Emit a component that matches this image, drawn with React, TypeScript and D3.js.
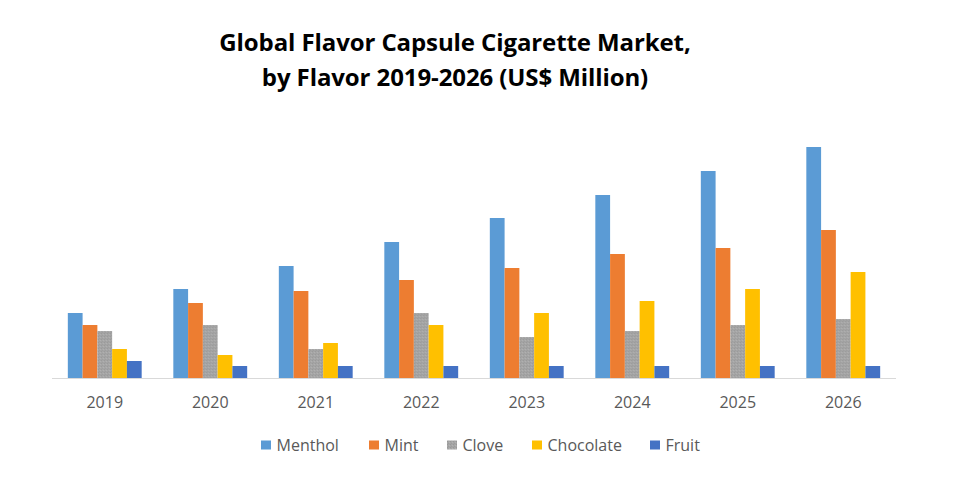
import React from "react";
import * as d3 from "d3";

const years = ["2019", "2020", "2021", "2022", "2023", "2024", "2025", "2026"];
const seriesNames = ["Menthol", "Mint", "Clove", "Chocolate", "Fruit"];
const menthol = [65, 89, 112, 136, 160, 183, 207, 231];
const mint = [53, 75, 87, 98, 110, 124, 130, 148];
const clove = [47, 53, 29, 65, 41, 47, 53, 59];
const chocolate = [29, 23, 35, 53, 65, 77, 89, 106];
const fruit = [17, 12, 12, 12, 12, 12, 12, 12];
const seriesValues = [menthol, mint, clove, chocolate, fruit];
const colors = ["#5B9BD5", "#ED7D31", "url(#clovePat)", "#FFC000", "#4472C4"];
const legendColors = ["#5B9BD5", "#ED7D31", "url(#clovePat)", "#FFC000", "#4472C4"];
const titleLines = ["Global Flavor Capsule Cigarette Market,", "by Flavor 2019-2026 (US$ Million)"];

const W = 955;
const H = 482;
const left = 52;
const right = 896;
const baseline = 378;

export default function App() {
  const x0 = d3.scaleBand<string>().domain(years).range([left, right]).paddingInner(0.3).paddingOuter(0.15);
  const x1 = d3.scaleBand<string>().domain(seriesNames).range([0, x0.bandwidth()]);
  const y = d3.scaleLinear().domain([0, 240]).range([baseline, baseline - 240]);

  const legendX = [261, 369, 447, 532, 650];

  return (
    <svg width={W} height={H} style={{ position: "absolute", left: 0, top: 0, background: "#fff" }}>
      <defs>
        <pattern id="clovePat" width="3" height="3" patternUnits="userSpaceOnUse">
          <rect width="3" height="3" fill="#A5A5A5" />
          <rect x="0" y="0" width="1" height="1" fill="#989898" />
          <rect x="2" y="1" width="1" height="1" fill="#B2B2B2" />
          <rect x="1" y="2" width="1" height="1" fill="#9C9C9C" />
        </pattern>
      </defs>
      <rect width={W} height={H} fill="#fff" />
      {titleLines.map((t, i) => (
        <text key={t} x={455} y={51 + i * 35} textAnchor="middle" fontFamily="'Open Sans', sans-serif"
          fontWeight={700} fontSize={24} fill="#000" letterSpacing={-0.1}>{t}</text>
      ))}
      {years.map((yr, i) => (
        <g key={yr} transform={`translate(${x0(yr)},0)`}>
          {seriesNames.map((s, j) => {
            const v = seriesValues[j][i];
            return (
              <rect key={s} x={x1(s)} y={y(v)} width={x1.bandwidth()} height={baseline - y(v)} fill={colors[j]} />
            );
          })}
        </g>
      ))}
      <line x1={left} x2={right} y1={baseline + 0.5} y2={baseline + 0.5} stroke="#D9D9D9" strokeWidth={1} />
      {years.map((yr) => (
        <text key={yr} x={(x0(yr) as number) + x0.bandwidth() / 2} y={408} textAnchor="middle"
          fontFamily="'Open Sans', sans-serif" fontSize={16} fill="#595959">{yr}</text>
      ))}
      {seriesNames.map((s, j) => (
        <g key={s}>
          <rect x={legendX[j]} y={440.5} width={10} height={9} fill={legendColors[j]} />
          <text x={legendX[j] + 15.5} y={451} fontFamily="'Open Sans', sans-serif" fontSize={16} fill="#595959">{s}</text>
        </g>
      ))}
    </svg>
  );
}
